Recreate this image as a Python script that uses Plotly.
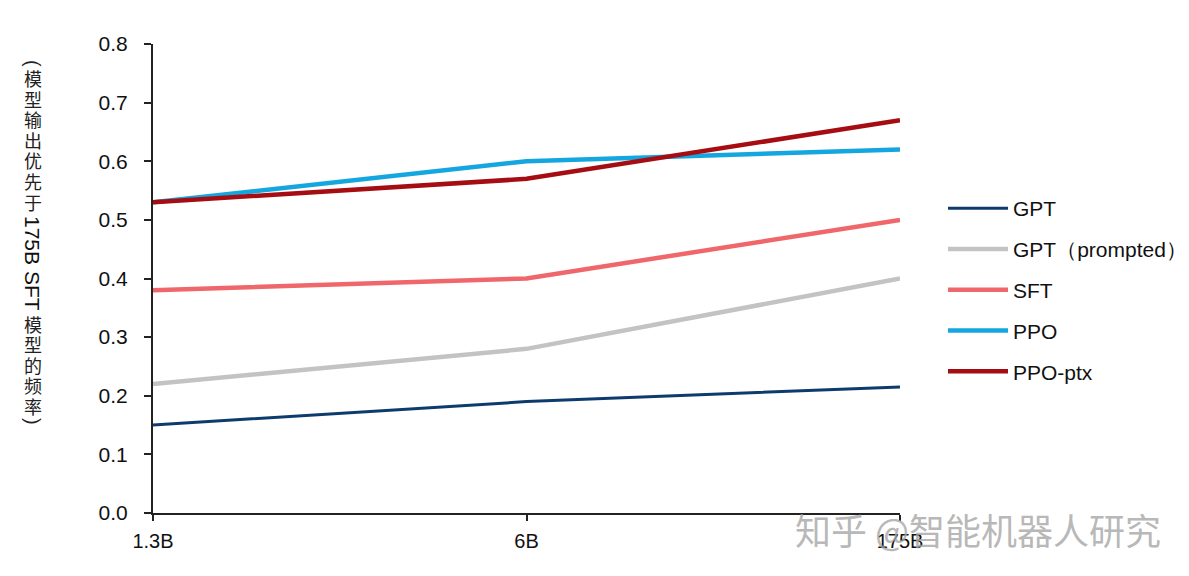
import plotly.graph_objects as go

categories = ["1.3B", "6B", "175B"]
gpt = [0.15, 0.19, 0.215]
gpt_prompted = [0.22, 0.28, 0.40]
sft = [0.38, 0.40, 0.50]
ppo = [0.53, 0.60, 0.62]
ppo_ptx = [0.53, 0.57, 0.67]

series_names = ["GPT", "GPT（prompted）", "SFT", "PPO", "PPO-ptx"]
series_values = [gpt, gpt_prompted, sft, ppo, ppo_ptx]
series_colors = ["#0E3B6E", "#C3C3C3", "#F0676B", "#14A7DF", "#A50D12"]
series_widths = [3, 4.5, 4.5, 4.5, 4.5]

W, H = 1189, 576
L, R, T, B = 153, 900, 44, 513

fig = go.Figure()
for i, (n, v, c, w) in enumerate(zip(series_names, series_values, series_colors, series_widths)):
    fig.add_trace(go.Scatter(x=categories, y=v, mode="lines", name=n,
                             line=dict(color=c, width=w), legendgroup=f"g{i}"))

def px(x):
    return (x - L) / (R - L)

def py(y):
    return (B - y) / (B - T)

font_cjk = "Noto Sans CJK SC"
annos = []
top_chars = ["模", "型", "输", "出", "优", "先", "于"]
top_y = [78, 99, 119, 140, 160, 181, 202]
bot_chars = ["模", "型", "的", "频", "率"]
bot_y = [324, 344, 365, 385, 406]
for ch, yy in list(zip(top_chars, top_y)) + list(zip(bot_chars, bot_y)):
    annos.append(dict(text=ch, x=px(33), y=py(yy), xref="paper", yref="paper",
                      showarrow=False, xanchor="center", yanchor="middle",
                      font=dict(family=font_cjk, size=18, color="#222")))
for ch, yy in [("(", 63), (")", 421)]:
    annos.append(dict(text=ch, x=px(33), y=py(yy), xref="paper", yref="paper",
                      showarrow=False, xanchor="center", yanchor="middle", textangle=90,
                      font=dict(family="Liberation Sans, Arial", size=20, color="#222")))
annos.append(dict(text="175B SFT", x=px(33), y=py(263), xref="paper", yref="paper",
                  showarrow=False, xanchor="center", yanchor="middle", textangle=90,
                  font=dict(family="Liberation Sans, Arial", size=21, color="#111")))
annos.append(dict(text="知乎 @智能机器人研究", x=px(978), y=py(529), xref="paper", yref="paper",
                  showarrow=False, xanchor="center", yanchor="middle",
                  font=dict(family=font_cjk, size=36, color="rgba(165,165,165,0.8)")))

fig.update_layout(
    width=W, height=H,
    margin=dict(l=L, r=W - R, t=T, b=H - B, autoexpand=False),
    paper_bgcolor="white", plot_bgcolor="white",
    font=dict(family="Liberation Sans, Arial", size=20, color="#111"),
    showlegend=True,
    legend=dict(x=px(943), y=py(188), xanchor="left", yanchor="top",
                font=dict(size=21, color="#111"), tracegroupgap=10.5, itemwidth=60,
                bgcolor="rgba(0,0,0,0)"),
    annotations=annos,
)
fig.update_xaxes(type="category", range=[0, 2], showline=True, linecolor="#222", linewidth=2,
                 ticks="outside", ticklen=6, tickwidth=1.5, tickcolor="#222",
                 tickfont=dict(size=20),
                 showgrid=False, zeroline=False, ticklabelstandoff=3)
fig.update_yaxes(range=[0, 0.8], tickvals=[0, 0.1, 0.2, 0.3, 0.4, 0.5, 0.6, 0.7, 0.8],
                 tickformat=".1f", showline=True, linecolor="#222", linewidth=2,
                 ticks="outside", ticklen=7, tickwidth=1.5, tickcolor="#222",
                 tickfont=dict(size=21),
                 showgrid=False, zeroline=False, ticklabelstandoff=12)

fig.write_html("out.html", post_script="document.body.style.margin='0';",
               config={"displayModeBar": False})
